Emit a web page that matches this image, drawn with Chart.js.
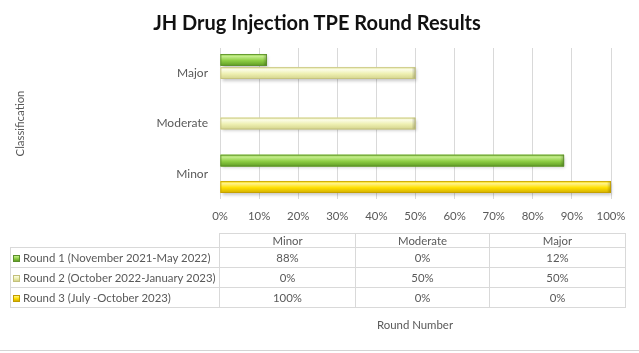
<!DOCTYPE html>
<html>
<head>
<meta charset="utf-8">
<script src="https://cdn.jsdelivr.net/npm/chart.js@4.4.0/dist/chart.umd.min.js"></script>
<style>
  html, body { margin: 0; padding: 0; background: #fff; }
  #wrap { position: relative; width: 639px; height: 353px; overflow: hidden; font-family: 'Lato', 'Noto Sans', sans-serif; }
  #c { position: absolute; left: 0; top: 0; }
  #title { position: absolute; left: 0; width: 634px; top: 10px; line-height: 24px; text-align: center; font-size: 20px; font-weight: bold; color: #111; }
  #tbl { position: absolute; left: 10px; top: 233px; border-collapse: collapse; font-size: 11.4px; color: #595959; table-layout: fixed; }
  #tbl td { border: 1px solid #d9d9d9; padding: 0; text-align: center; white-space: nowrap; overflow: hidden; }
  #tbl td.name { text-align: left; padding-left: 2px; }
  #tbl tr.head td { height: 13px; line-height: 13px; }
  #tbl tr.row td { height: 19px; line-height: 19px; }
  #tbl td.blank { border-top: none; border-left: none; }
  .key { display: inline-block; width: 7px; height: 7px; margin-right: 3px; vertical-align: 0px; box-sizing: border-box; }
  #xtitle { position: absolute; left: 0; width: 830px; top: 318px; text-align: center; font-size: 11.4px; color: #595959; }
  #bline { position: absolute; left: 0; top: 350px; width: 639px; height: 1px; background: #d4d4d4; }
</style>
</head>
<body>
<div id="wrap">
  <canvas id="c" width="639" height="353"></canvas>
  <div id="title"></div>
  <table id="tbl"></table>
  <div id="xtitle">Round Number</div>
  <div id="bline"></div>
</div>
<script>
// ---- data ----
const categories = ['Minor', 'Moderate', 'Major'];
const seriesNames = ['Round 1 (November 2021-May 2022)', 'Round 2 (October 2022-January 2023)', 'Round 3 (July -October 2023)'];
const round1 = [88, 0, 12];
const round2 = [0, 50, 50];
const round3 = [100, 0, 0];
const xTickValues = [0, 10, 20, 30, 40, 50, 60, 70, 80, 90, 100];
const titleText = 'JH Drug Injection TPE Round Results';
const yTitle = 'Classification';

document.getElementById('title').textContent = titleText;

// ---- styles ----
const palettes = [
  { top: '#c4ec8c', mid: '#8fcf45', bot: '#5f9c24', border: '#5b8e2b' },
  { top: '#fbfce6', mid: '#eef0b2', bot: '#d3d38c', border: '#c3c07c' },
  { top: '#fff38a', mid: '#ffe000', bot: '#d2ad00', border: '#c19d00' }
];
const seriesValues = [round1, round2, round3];

// Chart.js draws the first label on top; reference has Minor at bottom
const chartLabels = categories.slice().reverse();

const datasets = seriesValues.map((vals, i) => ({
  label: seriesNames[i],
  data: vals.slice().reverse(),
  backgroundColor: palettes[i].mid,
  borderWidth: 0,
  categoryPercentage: 0.79,
  barPercentage: 0.88
}));

const glossPlugin = {
  id: 'gloss',
  afterDatasetsDraw(chart) {
    const ctx = chart.ctx;
    chart.data.datasets.forEach((ds, i) => {
      const meta = chart.getDatasetMeta(i);
      const p = palettes[i];
      meta.data.forEach(el => {
        const { x, y, base, height } = el.getProps(['x', 'y', 'base', 'height'], true);
        const w = x - base;
        if (w < 0.5) return;
        const top = y - height / 2;
        ctx.save();
        ctx.shadowColor = 'rgba(0,0,0,0.22)';
        ctx.shadowBlur = 3;
        ctx.shadowOffsetX = 1;
        ctx.shadowOffsetY = 2;
        const g = ctx.createLinearGradient(0, top, 0, top + height);
        g.addColorStop(0, p.mid);
        g.addColorStop(0.2, p.top);
        g.addColorStop(0.55, p.mid);
        g.addColorStop(1, p.bot);
        ctx.fillStyle = g;
        ctx.fillRect(base, top, w, height);
        ctx.restore();
        // right end cap shading
        const cap = Math.min(4, w);
        const g2 = ctx.createLinearGradient(x - cap, 0, x, 0);
        g2.addColorStop(0, 'rgba(0,0,0,0)');
        g2.addColorStop(1, 'rgba(0,0,0,0.25)');
        ctx.fillStyle = g2;
        ctx.fillRect(x - cap, top, cap, height);
        ctx.strokeStyle = p.border;
        ctx.lineWidth = 0.8;
        ctx.strokeRect(base + 0.4, top + 0.4, w - 0.8, height - 0.8);
      });
    });
  }
};

const FONT = "'Lato', 'Noto Sans', sans-serif";

new Chart(document.getElementById('c'), {
  type: 'bar',
  data: { labels: chartLabels, datasets },
  plugins: [glossPlugin],
  options: {
    indexAxis: 'y',
    responsive: false,
    animation: false,
    devicePixelRatio: 1,
    layout: { padding: { left: 0, right: 28, top: 48, bottom: 0 } },
    plugins: {
      legend: { display: false },
      tooltip: { enabled: false },
      title: { display: false }
    },
    scales: {
      x: {
        min: 0, max: 100,
        afterBuildTicks(scale) { scale.ticks = xTickValues.map(v => ({ value: v })); },
        afterFit(scale) { scale.height = 154; },
        grid: { color: '#d9d9d9', drawTicks: false },
        border: { display: false },
        ticks: {
          padding: 10,
          color: '#595959',
          font: { family: FONT, size: 11.4 },
          callback: v => v + '%'
        }
      },
      y: {
        afterFit(scale) { scale.width = 220; },
        grid: { display: false, drawTicks: false },
        border: { display: false },
        ticks: { padding: 12, color: '#595959', font: { family: FONT, size: 12 } },
        title: {
          display: true,
          text: yTitle,
          color: '#595959',
          font: { family: FONT, size: 11.4 },
          padding: { top: 13, bottom: 0 }
        }
      }
    }
  }
});

// ---- data table ----
const tbl = document.getElementById('tbl');
const colW = [209, 136, 134, 136];
let html = '<colgroup>' + colW.map(w => `<col style="width:${w}px">`).join('') + '</colgroup>';
html += '<tr class="head"><td class="blank"></td>' + categories.map(c => `<td>${c}</td>`).join('') + '</tr>';
seriesValues.forEach((vals, i) => {
  const p = palettes[i];
  const key = `<span class="key" style="background:linear-gradient(${p.top},${p.mid} 50%,${p.bot});border:1px solid ${p.border}"></span>`;
  html += `<tr class="row"><td class="name">${key}${seriesNames[i]}</td>` + vals.map(v => `<td>${v}%</td>`).join('') + '</tr>';
});
tbl.innerHTML = html;
</script>
</body>
</html>
